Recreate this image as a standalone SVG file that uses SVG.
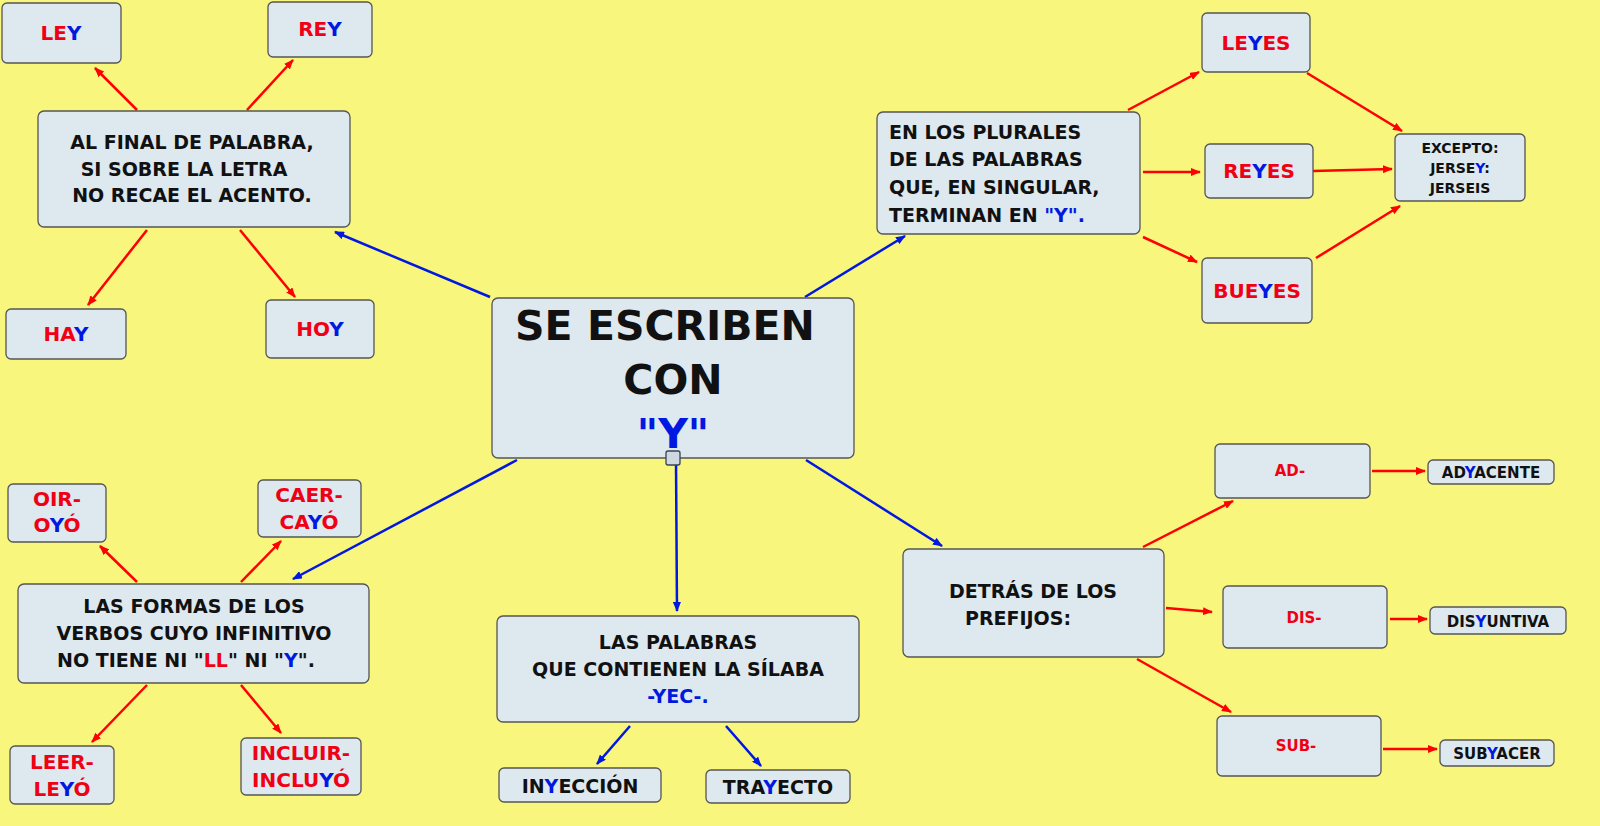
<svg xmlns="http://www.w3.org/2000/svg" width="1600" height="826" viewBox="0 0 1600 826">
<defs>
<marker id="ar" markerWidth="10" markerHeight="8" refX="9" refY="4" orient="auto" markerUnits="userSpaceOnUse" viewBox="0 0 10 8"><path d="M0,0L10,4L0,8Z" fill="#f00"/></marker>
<marker id="ab" markerWidth="10" markerHeight="8" refX="9" refY="4" orient="auto" markerUnits="userSpaceOnUse" viewBox="0 0 10 8"><path d="M0,0L10,4L0,8Z" fill="#0018e0"/></marker>
<style>
.n rect{fill:#dde8ef;stroke:#555;stroke-width:1.3}
text{font-family:"DejaVu Sans","Verdana",sans-serif;font-weight:bold;text-anchor:middle;fill:#111}
.r{fill:#f00014}.b{fill:#0018e0}
.cr line{stroke:#f00;stroke-width:2.5;marker-end:url(#ar)}
.cb line{stroke:#0018e0;stroke-width:2.5;marker-end:url(#ab)}
</style>
</defs>
<rect width="1600" height="826" fill="#f8f67c"/>
<g id="connectors">
<g class="cb">
<line x1="490" y1="297" x2="335" y2="232"/>
<line x1="805" y1="297" x2="905" y2="236"/>
<line x1="517" y1="460" x2="293" y2="579"/>
<line x1="676" y1="460" x2="677" y2="611"/>
<line x1="806" y1="460" x2="942" y2="546"/>
<line x1="630" y1="726" x2="597" y2="764"/>
<line x1="726" y1="726" x2="761" y2="766"/>
</g>
<g class="cr">
<line x1="137" y1="110" x2="95" y2="68"/>
<line x1="247" y1="110" x2="293" y2="60"/>
<line x1="147" y1="230" x2="88" y2="305"/>
<line x1="240" y1="230" x2="295" y2="297"/>
<line x1="1128" y1="110" x2="1199" y2="72"/>
<line x1="1143" y1="172" x2="1200" y2="172"/>
<line x1="1143" y1="237" x2="1197" y2="262"/>
<line x1="1307" y1="73" x2="1402" y2="131"/>
<line x1="1313" y1="171" x2="1392" y2="169"/>
<line x1="1316" y1="258" x2="1400" y2="206"/>
<line x1="1143" y1="547" x2="1233" y2="501"/>
<line x1="1166" y1="608" x2="1212" y2="612"/>
<line x1="1137" y1="659" x2="1231" y2="712"/>
<line x1="1372" y1="471" x2="1425" y2="471"/>
<line x1="1390" y1="619" x2="1427" y2="619"/>
<line x1="1383" y1="749" x2="1437" y2="749"/>
<line x1="137" y1="582" x2="100" y2="546"/>
<line x1="241" y1="582" x2="281" y2="541"/>
<line x1="147" y1="685" x2="92" y2="742"/>
<line x1="241" y1="685" x2="281" y2="733"/>
</g>
</g>
<g id="center" class="n"><rect x="492" y="298" width="362" height="160" rx="6"/>
<text x="665" y="340" font-size="41">SE ESCRIBEN</text><text x="673" y="394" font-size="41">CON</text><text x="673" y="448" font-size="41" class="b">"Y"</text>
<rect x="666" y="451" width="14" height="14" rx="2" style="fill:#cfd8e0;stroke:#345"/></g>
<g id="ley" class="n"><rect x="2" y="3" width="119" height="60" rx="5"/><text x="61" y="40" font-size="20"><tspan class="r">LE</tspan><tspan class="b">Y</tspan></text></g>
<g id="rey" class="n"><rect x="268" y="2" width="104" height="55" rx="5"/><text x="320" y="36" font-size="20"><tspan class="r">RE</tspan><tspan class="b">Y</tspan></text></g>
<g id="final" class="n"><rect x="38" y="111" width="312" height="116" rx="6"/><text font-size="19"><tspan x="192" y="149">AL FINAL DE PALABRA,</tspan><tspan x="184" y="176">SI SOBRE LA LETRA</tspan><tspan x="192" y="202">NO RECAE EL ACENTO.</tspan></text></g>
<g id="hay" class="n"><rect x="6" y="309" width="120" height="50" rx="5"/><text x="66" y="341" font-size="20"><tspan class="r">HA</tspan><tspan class="b">Y</tspan></text></g>
<g id="hoy" class="n"><rect x="266" y="300" width="108" height="58" rx="5"/><text x="320" y="336" font-size="20"><tspan class="r">HO</tspan><tspan class="b">Y</tspan></text></g>
<g id="plurales" class="n"><rect x="877" y="112" width="263" height="122" rx="6"/><text font-size="19" style="text-anchor:start"><tspan x="889" y="139">EN LOS PLURALES</tspan><tspan x="889" y="166">DE LAS PALABRAS</tspan><tspan x="889" y="194">QUE, EN SINGULAR,</tspan><tspan x="889" y="222">TERMINAN EN  <tspan class="b">"Y".</tspan></tspan></text></g>
<g id="leyes" class="n"><rect x="1202" y="13" width="108" height="59" rx="5"/><text x="1256" y="50" font-size="20"><tspan class="r">LE</tspan><tspan class="b">Y</tspan><tspan class="r">ES</tspan></text></g>
<g id="reyes" class="n"><rect x="1205" y="144" width="108" height="54" rx="5"/><text x="1259" y="178" font-size="20"><tspan class="r">RE</tspan><tspan class="b">Y</tspan><tspan class="r">ES</tspan></text></g>
<g id="bueyes" class="n"><rect x="1202" y="258" width="110" height="65" rx="5"/><text x="1257" y="298" font-size="20"><tspan class="r">BUE</tspan><tspan class="b">Y</tspan><tspan class="r">ES</tspan></text></g>
<g id="excepto" class="n"><rect x="1395" y="134" width="130" height="67" rx="5"/><text font-size="14"><tspan x="1460" y="153">EXCEPTO:</tspan><tspan x="1460" y="173">JERSE<tspan class="b">Y</tspan>:</tspan><tspan x="1460" y="193">JERSEIS</tspan></text></g>
<g id="detras" class="n"><rect x="903" y="549" width="261" height="108" rx="6"/><text font-size="19"><tspan x="1033" y="598">DETRÁS DE LOS</tspan><tspan x="1018" y="625">PREFIJOS:</tspan></text></g>
<g id="ad" class="n"><rect x="1215" y="444" width="155" height="54" rx="5"/><text x="1290" y="476" font-size="15" class="r">AD-</text></g>
<g id="adyacente" class="n"><rect x="1428" y="460" width="126" height="24" rx="5"/><text x="1491" y="478" font-size="15"><tspan>AD</tspan><tspan class="b">Y</tspan><tspan>ACENTE</tspan></text></g>
<g id="dis" class="n"><rect x="1223" y="586" width="164" height="62" rx="5"/><text x="1304" y="623" font-size="15" class="r">DIS-</text></g>
<g id="disyuntiva" class="n"><rect x="1430" y="607" width="136" height="27" rx="5"/><text x="1498" y="627" font-size="15"><tspan>DIS</tspan><tspan class="b">Y</tspan><tspan>UNTIVA</tspan></text></g>
<g id="sub" class="n"><rect x="1217" y="716" width="164" height="60" rx="5"/><text x="1296" y="751" font-size="15" class="r">SUB-</text></g>
<g id="subyacer" class="n"><rect x="1440" y="740" width="114" height="26" rx="5"/><text x="1497" y="759" font-size="15"><tspan>SUB</tspan><tspan class="b">Y</tspan><tspan>ACER</tspan></text></g>
<g id="formas" class="n"><rect x="18" y="584" width="351" height="99" rx="6"/><text font-size="19"><tspan x="194" y="613">LAS FORMAS DE LOS</tspan><tspan x="194" y="640">VERBOS CUYO INFINITIVO</tspan><tspan x="186" y="667">NO TIENE NI "<tspan class="r">LL</tspan>" NI "<tspan class="b">Y</tspan>".</tspan></text></g>
<g id="oir" class="n"><rect x="8" y="484" width="98" height="58" rx="5"/><text font-size="20" class="r"><tspan x="57" y="506">OIR-</tspan><tspan x="57" y="532">O<tspan class="b">Y</tspan>Ó</tspan></text></g>
<g id="caer" class="n"><rect x="258" y="480" width="103" height="57" rx="5"/><text font-size="20" class="r"><tspan x="309" y="502">CAER-</tspan><tspan x="309" y="529">CA<tspan class="b">Y</tspan>Ó</tspan></text></g>
<g id="leer" class="n"><rect x="10" y="746" width="104" height="58" rx="5"/><text font-size="20" class="r"><tspan x="62" y="769">LEER-</tspan><tspan x="62" y="796">LE<tspan class="b">Y</tspan>Ó</tspan></text></g>
<g id="incluir" class="n"><rect x="241" y="738" width="120" height="57" rx="5"/><text font-size="20" class="r"><tspan x="301" y="760">INCLUIR-</tspan><tspan x="301" y="787">INCLU<tspan class="b">Y</tspan>Ó</tspan></text></g>
<g id="silaba" class="n"><rect x="497" y="616" width="362" height="106" rx="6"/><text font-size="19"><tspan x="678" y="649">LAS PALABRAS</tspan><tspan x="678" y="676">QUE CONTIENEN LA SÍLABA</tspan><tspan x="678" y="703" class="b">-YEC-.</tspan></text></g>
<g id="inyeccion" class="n"><rect x="499" y="768" width="162" height="34" rx="5"/><text x="580" y="793" font-size="19">IN<tspan class="b">Y</tspan>ECCIÓN</text></g>
<g id="trayecto" class="n"><rect x="706" y="770" width="144" height="33" rx="5"/><text x="778" y="794" font-size="19">TRA<tspan class="b">Y</tspan>ECTO</text></g>
</svg>
